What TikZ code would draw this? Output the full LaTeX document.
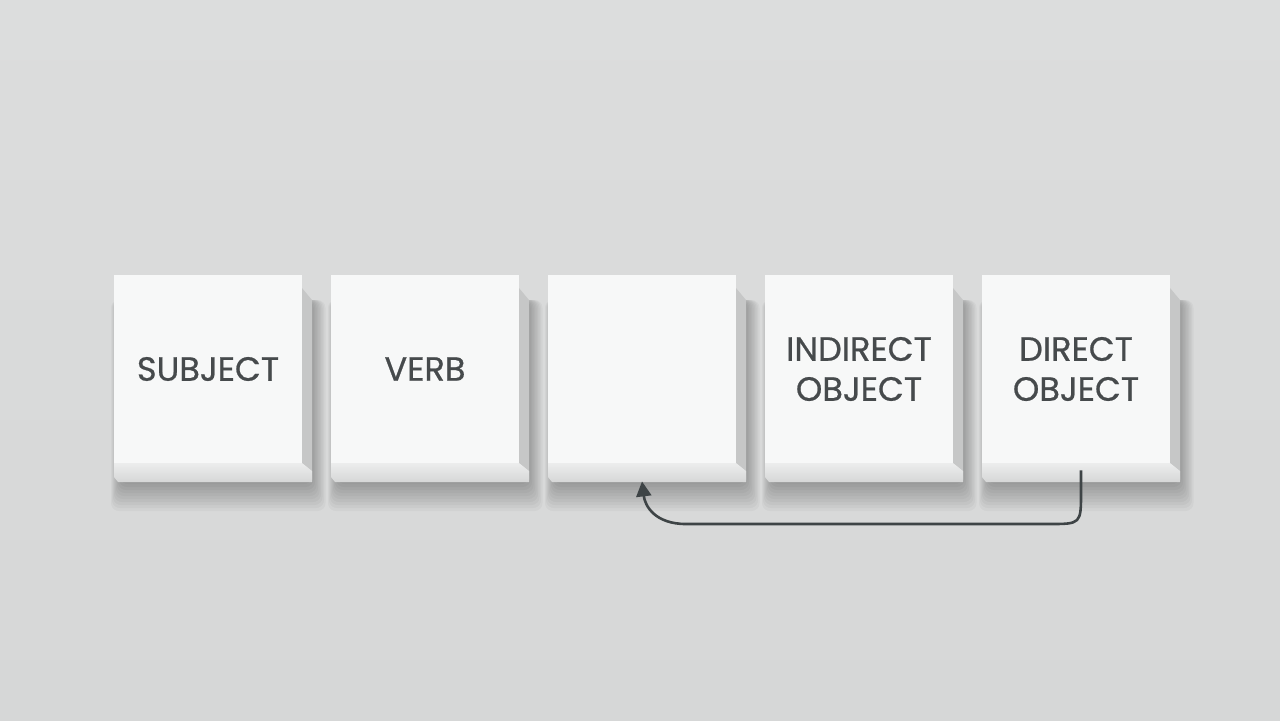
\documentclass[tikz,border=0pt]{standalone}
\usepackage{fontspec}
\setmainfont{Poppins}
\usetikzlibrary{arrows.meta}
\definecolor{bgtop}{RGB}{220,221,221}
\definecolor{bgbot}{RGB}{214,215,215}
\definecolor{facec}{RGB}{247,248,248}
\definecolor{liptop}{RGB}{236,237,237}
\definecolor{lipbot}{RGB}{214,215,215}
\definecolor{sidec}{RGB}{198,199,199}
\definecolor{txt}{RGB}{70,74,76}
\definecolor{arr}{RGB}{62,68,70}
\tikzset{
  blockface/.style={rectangle, fill=facec, minimum width=94pt, minimum height=94pt,
    inner sep=0pt, align=center, text=txt,
    font=\fontsize{16.8}{20}\selectfont\addfontfeature{FakeBold=0.6}},
  conn/.style={draw=arr, line width=1.3pt, -{Triangle[length=7.5pt,width=7.5pt]}},
}
\newcommand\myblock[3]{%
  \begin{scope}[shift={(#2,0)}]
    \foreach \k in {0,...,9}
      \fill[black, opacity=0.03, rounded corners=4pt] ({-88-\k},300) rectangle ({104+1.5*\k},{484+3*\k});
    \fill[sidec] (94,288) -- (104,300) -- (104,480) -- (94,463) -- cycle;
    \shade[top color=liptop, bottom color=lipbot] (-94,463) -- (94,463) -- (104,471) -- (104,482) -- (-90,482) -- (-94,477) -- cycle;
  \end{scope}
  \node[blockface] (#1) at (#2,369) {#3};
}
\begin{document}
\begin{tikzpicture}[x=0.5pt,y=-0.5pt]
  \shade[top color=bgtop, bottom color=bgbot] (0,0) rectangle (1280,720);
  \useasboundingbox (0,0) rectangle (1280,720);
  \myblock{b1}{208}{SUBJECT}
  \myblock{b2}{425}{VERB}
  \myblock{b3}{642}{}
  \myblock{b4}{859}{INDIRECT\\OBJECT}
  \myblock{b5}{1076}{DIRECT\\OBJECT}
  \coordinate (s) at ([xshift=2.5pt,yshift=-3.5pt]b5.south);
  \coordinate (e) at ([yshift=-9pt]b3.south);
  \draw[conn] (s) -- (1081,492) .. controls (1081,524) .. (1049,524) -- (686,524)
     .. controls (655,524) and (645,506) .. (e);
\end{tikzpicture}
\end{document}
